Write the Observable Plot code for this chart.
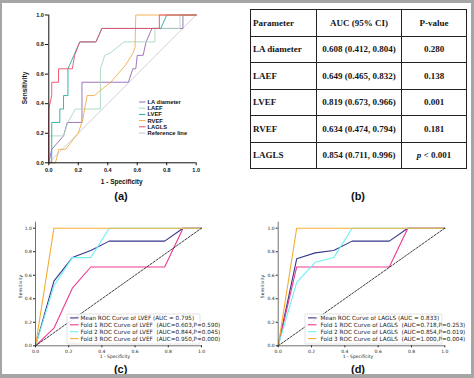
<!DOCTYPE html>
<html><head><meta charset="utf-8">
<script src="https://cdn.jsdelivr.net/npm/d3@7"></script>
<script src="https://cdn.jsdelivr.net/npm/@observablehq/plot@0.6"></script>
<style>
html,body{margin:0;padding:0;background:#fff;}
#root{position:relative;width:474px;height:378px;overflow:hidden;background:#fff;}
.panel{position:absolute;}
#frame{position:absolute;left:0;top:0;width:474px;height:378px;box-sizing:border-box;border-style:solid;border-color:#a6a6a6;border-width:3px 3px 4px 2px;pointer-events:none;}
.plab{position:absolute;font:bold 11px "Liberation Sans",Arial,sans-serif;color:#111;transform:translate(-50%,-50%);white-space:nowrap;}
#tbl{position:absolute;left:250px;top:9px;width:216px;height:153px;border-collapse:collapse;table-layout:fixed;font:bold 9px "Liberation Serif","Times New Roman",serif;color:#151515;border:1.5px solid #222;}
#tbl td{border:1px solid #222;padding:0;height:25.5px;text-align:center;white-space:nowrap;}
#tbl td.c0{text-align:left;padding-left:2px;}
</style></head>
<body><div id="root"></div>
<script>
// ---------- Panel (a) data ----------
const rocSeries = ["LA diameter", "LAEF", "LVEF", "RVEF", "LAGLS", "Reference line"];
const rocColors = ["#9468b4", "#a8d8bc", "#26a9a0", "#f3ab48", "#ef4b66", "#c8c8d2"];
const tickVals = [0, 0.2, 0.4, 0.6, 0.8, 1.0];
const laDiameter = [[0,0],[0.02,0.091],[0.1,0.182],[0.125,0.273],[0.225,0.273],[0.225,0.545],[0.54,0.545],[0.57,0.636],[0.59,0.636],[0.6,0.727],[0.64,0.727],[0.66,0.818],[0.7,0.909],[0.91,0.909],[0.91,1],[1,1]];
const laef = [[0,0],[0,0.182],[0.1,0.182],[0.13,0.273],[0.18,0.364],[0.35,0.364],[0.35,0.636],[0.38,0.727],[0.42,0.745],[0.51,0.818],[0.72,0.818],[0.72,0.909],[0.89,0.909],[0.89,1],[1,1]];
const lvef = [[0,0],[0.02,0],[0.02,0.273],[0.075,0.273],[0.075,0.364],[0.1,0.364],[0.1,0.455],[0.13,0.455],[0.13,0.636],[0.17,0.727],[0.21,0.818],[0.32,0.818],[0.36,0.909],[0.76,0.909],[0.8,1],[1,1]];
const rvef = [[0,0],[0.045,0],[0.068,0.091],[0.113,0.091],[0.2,0.2],[0.23,0.29],[0.26,0.455],[0.31,0.455],[0.35,0.49],[0.42,0.545],[0.52,0.66],[0.57,0.74],[0.585,0.78],[0.59,1],[1,1]];
const lagls = [[0,0],[0,0.364],[0.02,0.455],[0.02,0.545],[0.066,0.545],[0.066,0.636],[0.16,0.636],[0.175,0.727],[0.21,0.818],[0.32,0.818],[0.36,0.909],[0.75,0.909],[0.75,1],[1,1]];
const referenceLine = [[0,0],[1,1]];

// ---------- Panel (b) data ----------
const tableHeader = ["Parameter", "AUC (95% CI)", "P-value"];
const tableParams = ["LA diameter", "LAEF", "LVEF", "RVEF", "LAGLS"];
const tableAUC = ["0.608 (0.412, 0.804)", "0.649 (0.465, 0.832)", "0.819 (0.673, 0.966)", "0.634 (0.474, 0.794)", "0.854 (0.711, 0.996)"];
const tableP = ["0.280", "0.138", "0.001", "0.181", "< 0.001"];

// ---------- Panels (c),(d) data ----------
const foldSeries = ["Mean", "Fold 1", "Fold 2", "Fold 3"];
const foldColors = ["#36368c", "#ee3a8f", "#6ff0f0", "#f5ae33"];
const lvefMean  = [[0,0],[0.111,0.55],[0.222,0.75],[0.333,0.81],[0.444,0.89],[0.778,0.89],[0.889,1],[1,1]];
const lvefFold1 = [[0,0],[0.111,0.15],[0.222,0.49],[0.333,0.67],[0.778,0.67],[0.889,1],[1,1]];
const lvefFold2 = [[0,0],[0.111,0.51],[0.222,0.75],[0.333,0.75],[0.444,1],[1,1]];
const lvefFold3 = [[0,0],[0.111,1],[1,1]];
const laglsMean  = [[0,0],[0.111,0.74],[0.222,0.79],[0.333,0.81],[0.444,0.89],[0.667,0.89],[0.778,1],[1,1]];
const laglsFold1 = [[0,0],[0.111,0.67],[0.667,0.67],[0.778,1],[1,1]];
const laglsFold2 = [[0,0],[0.111,0.54],[0.222,0.71],[0.333,0.75],[0.444,1],[1,1]];
const laglsFold3 = [[0,0],[0.111,1],[1,1]];
const lvefLegend = ["Mean ROC Curve of LVEF (AUC = 0.795)", "Fold 1 ROC Curve of LVEF  (AUC=0.603,P=0.590)", "Fold 2 ROC Curve of LVEF  (AUC=0.844,P=0.045)", "Fold 3 ROC Curve of LVEF  (AUC=0.950,P=0.000)"];
const laglsLegend = ["Mean ROC Curve of LAGLS (AUC = 0.833)", "Fold 1 ROC Curve of LAGLS  (AUC=0.718,P=0.253)", "Fold 2 ROC Curve of LAGLS  (AUC=0.854,P=0.019)", "Fold 3 ROC Curve of LAGLS  (AUC=1.000,P=0.004)"];

const root = d3.select("#root");
const f1 = d3.format(".1f");
const toRows = (arr, s) => arr.map(([x, y]) => ({x, y, s}));

// ---------- Panel (a) ----------
const aCurves = [laDiameter, laef, lvef, rvef, lagls];
const aData = aCurves.flatMap((c, i) => toRows(c, rocSeries[i]));
const plotA = Plot.plot({
  width: 237, height: 190,
  marginLeft: 48.3, marginRight: 41.3, marginTop: 14.5, marginBottom: 27.7,
  x: {domain: [0, 1]}, y: {domain: [0, 1]},
  color: {domain: rocSeries, range: rocColors},
  style: {fontFamily: "'Liberation Sans', Arial, sans-serif", fontSize: "5.5px", fontWeight: "bold", color: "#111", background: "transparent", overflow: "visible"},
  marks: [
    Plot.line(toRows(referenceLine, "Reference line"), {x: "x", y: "y", stroke: "s", strokeWidth: 0.9}),
    Plot.line(aData, {x: "x", y: "y", z: "s", stroke: "s", strokeWidth: 0.9}),
    Plot.axisX({ticks: tickVals, tickFormat: f1, tickSize: 3, tickPadding: 2, label: null}),
    Plot.axisY({ticks: tickVals, tickFormat: f1, tickSize: 3.5, tickPadding: 1.5, label: null}),
    Plot.ruleX([0], {stroke: "#111", strokeWidth: 1}),
    Plot.ruleY([0], {stroke: "#111", strokeWidth: 1})
  ]
});
root.append(() => plotA).attr("class", "panel").style("left", "0px").style("top", "0px");
{
  const s = d3.select(plotA);
  s.append("text").attr("transform", "translate(25,88) rotate(-90)").attr("text-anchor", "middle").attr("dy", "0.35em")
    .attr("font-size", "6.5px").attr("font-weight", "bold").attr("fill", "#111").text("Sensitivity");
  s.append("text").attr("x", 121.7).attr("y", 182).attr("text-anchor", "middle").attr("dy", "0.35em")
    .attr("font-size", "6.5px").attr("font-weight", "bold").attr("fill", "#111").text("1 - Specificity");
  const g = s.append("g").attr("font-size", "5.8px").attr("font-weight", "bold").attr("text-anchor", "start");
  rocSeries.forEach((name, i) => {
    const y = 102 + 6.2 * i;
    g.append("line").attr("x1", 139).attr("x2", 145.5).attr("y1", y).attr("y2", y).attr("stroke", rocColors[i]).attr("stroke-width", 1);
    g.append("text").attr("x", 147.5).attr("y", y).attr("dy", "0.35em").attr("text-anchor", "start").attr("fill", "#111").text(name);
  });
}

// ---------- Panel (b) table ----------
const tbl = root.append("table").attr("id", "tbl");
const cg = tbl.append("colgroup");
[66, 85, 65].forEach(w => cg.append("col").style("width", w + "px"));
const hr = tbl.append("tr");
tableHeader.forEach((h, i) => hr.append("td").attr("class", "c" + i).text(h));
tableParams.forEach((p, r) => {
  const tr = tbl.append("tr");
  tr.append("td").attr("class", "c0").text(p);
  tr.append("td").attr("class", "c1").text(tableAUC[r]);
  const td = tr.append("td").attr("class", "c2");
  if (tableP[r].startsWith("<")) {
    td.append("i").text("p");
    td.append("span").text(" " + tableP[r]);
  } else td.text(tableP[r]);
});

// ---------- Panels (c),(d) ----------
function foldPanel(curves, legendTexts, left, mL, mR, legendBox, textOff) {
  const data = curves.flatMap((c, i) => toRows(c, foldSeries[i]));
  const p = Plot.plot({
    width: 237, height: 188,
    marginLeft: mL, marginRight: mR, marginTop: 31.8, marginBottom: 32.7,
    x: {domain: [0, 1]}, y: {domain: [0, 1.05]},
    color: {domain: foldSeries, range: foldColors},
    style: {fontFamily: "'DejaVu Sans', sans-serif", fontSize: "4.5px", color: "#222", background: "transparent", overflow: "visible"},
    marks: [
      Plot.line(data, {x: "x", y: "y", z: "s", stroke: "s", strokeWidth: 1.1}),
      Plot.line(referenceLine.map(([x, y]) => ({x, y})), {x: "x", y: "y", stroke: "#111", strokeWidth: 0.8, strokeDasharray: "2.2,1.4"}),
      Plot.axisX({ticks: tickVals, tickFormat: f1, tickSize: 2, tickPadding: 1.5, label: null}),
      Plot.axisY({ticks: tickVals, tickFormat: f1, tickSize: 2, tickPadding: 1.5, label: null}),
      Plot.ruleX([0], {stroke: "#333", strokeWidth: 0.7}),
      Plot.ruleY([0], {stroke: "#333", strokeWidth: 0.7})
    ]
  });
  root.append(() => p).attr("class", "panel").style("left", left + "px").style("top", "190px");
  const s = d3.select(p);
  const cx = mL + (237 - mL - mR) / 2;
  s.append("text").attr("transform", `translate(${mL - 15},96.5) rotate(-90)`).attr("text-anchor", "middle").attr("dy", "0.35em")
    .attr("fill", "#222").text("Sensitivity");
  s.append("text").attr("x", cx - 3).attr("y", 166.7).attr("text-anchor", "middle").attr("dy", "0.35em")
    .attr("fill", "#222").text("1 - Specificity");
  const [bx, by, bw, bh] = legendBox;
  const g = s.append("g").attr("font-size", "5.7px").attr("text-anchor", "start");
  g.append("rect").attr("x", bx).attr("y", by).attr("width", bw).attr("height", bh).attr("rx", 1)
    .attr("fill", "#fff").attr("fill-opacity", 0.85).attr("stroke", "#d0d0d0").attr("stroke-width", 0.6);
  legendTexts.forEach((t, i) => {
    const y = by + 3.9 + 6.9 * i;
    g.append("line").attr("x1", bx + 3).attr("x2", bx + 11.5).attr("y1", y).attr("y2", y).attr("stroke", foldColors[i]).attr("stroke-width", 1.1);
    g.append("text").attr("x", bx + textOff).attr("y", y).attr("dy", "0.35em").attr("text-anchor", "start").attr("fill", "#222")
      .style("white-space", "pre").text(t);
  });
}
foldPanel([lvefMean, lvefFold1, lvefFold2, lvefFold3], lvefLegend, 0, 35, 36, [67, 124, 133, 30], 13.5);
foldPanel([laglsMean, laglsFold1, laglsFold2, laglsFold3], laglsLegend, 237, 40.7, 29.7, [68, 124, 137, 30], 15.5);

// ---------- Panel labels & frame ----------
[["(a)", 121, 196], ["(b)", 358, 196], ["(c)", 120.7, 369], ["(d)", 358, 369]].forEach(([t, x, y]) => {
  root.append("div").attr("class", "plab").style("left", x + "px").style("top", y + "px").text(t);
});
root.append("div").attr("id", "frame");
</script>
</body></html>
